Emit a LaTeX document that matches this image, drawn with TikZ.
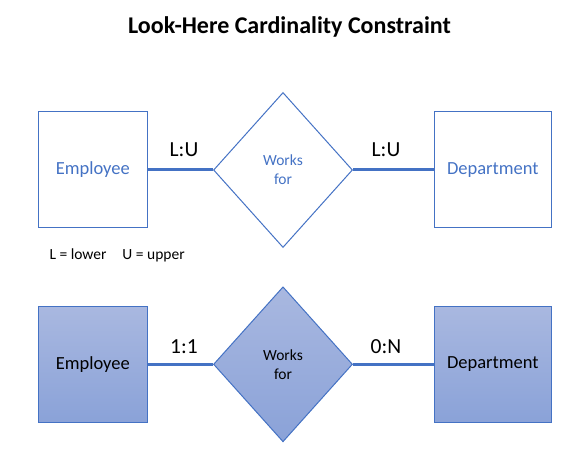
\documentclass[tikz,border=0pt]{standalone}
\usepackage{fontspec}
\setmainfont{Carlito}
\usetikzlibrary{shapes.geometric}
\definecolor{ol}{HTML}{4472C4}
\definecolor{ftop}{HTML}{A9B8E0}
\definecolor{fbot}{HTML}{8AA2D8}
\tikzset{
  ent/.style={draw=ol, line width=1pt, minimum width=109pt, minimum height=116pt, inner sep=0pt},
  dept/.style={ent, minimum width=117pt},
  rel/.style={diamond, draw=ol, line width=1pt, minimum width=139pt, minimum height=155pt, inner sep=0pt, align=center, font=\fontsize{15.5pt}{19pt}\selectfont},
  filled/.style={top color=ftop, bottom color=fbot},
  conn/.style={draw=ol, line width=3pt},
  card/.style={font=\fontsize{21.5pt}{24pt}\selectfont},
  etext/.style={font=\fontsize{18.5pt}{22pt}\selectfont}
}
\begin{document}
\begin{tikzpicture}[x=1pt,y=-1pt]
\useasboundingbox (0,0) rectangle (578,454);
\node[font=\bfseries\fontsize{24pt}{28pt}\selectfont] (title) at (289.5,27) {Look-Here Cardinality Constraint};
% top row
\node[ent, text=ol, etext] (e1) at (92.8,170) {Employee};
\node[rel, text=ol] (r1) at (283,170) {Works\\for};
\node[dept, text=ol, etext] (d1) at (492.8,170) {Department};
\draw[conn] (e1.east) -- (r1.west);
\draw[conn] (r1.east) -- (d1.west);
\node[card] (c1) at (184,150) {L:U};
\node[card] (c2) at (386,150) {L:U};
\node[font=\fontsize{15.5pt}{19pt}\selectfont, anchor=west] (legend) at (46,255) {L = lower\hspace{16pt}U = upper};
% bottom row
\node[ent, filled, etext] (e2) at (92.8,364.3) {Employee};
\node[rel, filled] (r2) at (283,364.3) {Works\\for};
\node[dept, filled, etext] (d2) at (492.8,364.3) {Department};
\draw[conn] (e2.east) -- (r2.west);
\draw[conn] (r2.east) -- (d2.west);
\node[card] (c3) at (184,346.5) {1:1};
\node[card] (c4) at (386,346.5) {0:N};
\end{tikzpicture}
\end{document}
